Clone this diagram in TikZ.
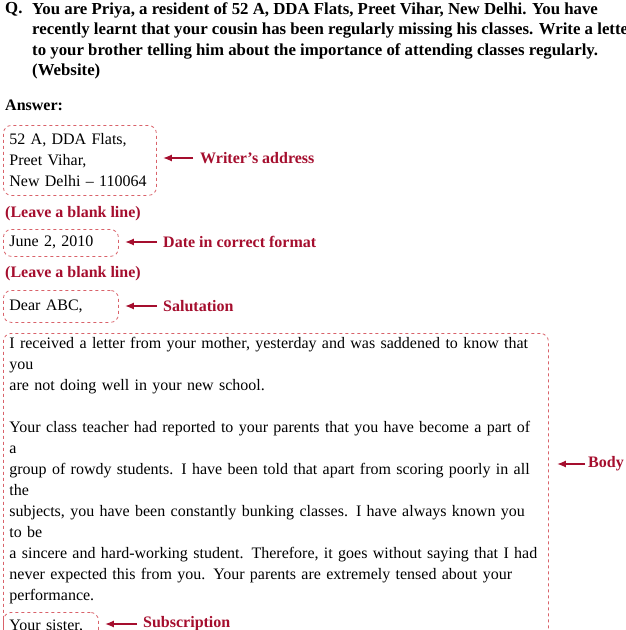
\documentclass[tikz,border=0pt]{standalone}
\usepackage{fontspec}
\setmainfont{Liberation Serif}
\usetikzlibrary{arrows.meta,positioning}
\definecolor{lblred}{HTML}{A50E2E}
\definecolor{boxred}{HTML}{D9626A}
\tikzset{
  letter/.style={draw=boxred, dashed, line width=0.8pt, rounded corners=8pt,
    align=left, anchor=north west, inner xsep=6pt, inner ysep=4pt,
    font=\fontsize{16}{21}\selectfont},
  note/.style={text=lblred, font=\fontsize{16}{17}\selectfont\bfseries, anchor=base west, inner sep=0pt},
  pointer/.style={-{Latex[length=9pt,width=7pt]}, lblred, line width=2pt},
  qtext/.style={font=\fontsize{16.8}{20.5}\selectfont\bfseries, align=left, anchor=north west, inner sep=0pt}
}
\begin{document}
\begin{tikzpicture}[x=1pt,y=-1pt]
    \useasboundingbox (0,0) rectangle (625,630);

    % question
    \node [qtext] (qmark) at (5,2) {Q.};
    \node [qtext] (question) at (32,2) {You are Priya, a resident of 52 A, DDA Flats, Preet Vihar, New Delhi. You have\\
      recently learnt that your cousin has been regularly missing his classes. Write a letter\\
      to your brother telling him about the importance of attending classes regularly.\\
      (Website)};
    \node [note, text=black] (answer) at (5,110) {Answer:};

    % letter parts
    \node [letter, text width=141pt, minimum height=70pt] (addr) at (3,125)
      {52 A, DDA Flats,\\ Preet Vihar,\\ New Delhi -- 110064};
    \node [note] (blank1) at (5,217) {(Leave a blank line)};
    \node [letter, text width=103pt, minimum height=27pt] (date) at (3,229) {June 2, 2010};
    \node [note] (blank2) at (5,277) {(Leave a blank line)};
    \node [letter, text width=103pt, minimum height=32pt] (salut) at (3,290) {Dear ABC,};
    \node [letter, text width=533pt, minimum height=262pt] (body) at (3,333)
      {I received a letter from your mother, yesterday and was saddened to know that you\\
       are not doing well in your new school.\\[21pt]
       Your class teacher had reported to your parents that you have become a part of a\\
       group of rowdy students. I have been told that apart from scoring poorly in all the\\
       subjects, you have been constantly bunking classes. I have always known you to be\\
       a sincere and hard-working student. Therefore, it goes without saying that I had\\
       never expected this from you. Your parents are extremely tensed about your\\
       performance.\\[21pt]
       I have assured them that given a chance, you would not let any one of us down.\\
       Keep your chin up and work hard. Let me know if you need any kind of help.};
    \node [letter, text width=83pt, minimum height=28pt] (subs) at (3,612) {Your sister,};

    % labels
    \node [note, anchor=west] (laddr) at (200,158) {Writer’s address};
    \node [note, anchor=west] (ldate) at (163,242) {Date in correct format};
    \node [note, anchor=west] (lsalut) at (163,306) {Salutation};
    \node [note, anchor=west] (lbody) at (588,464) {Body};
    \node [note, anchor=west] (lsubs) at (143,624) {Subscription};

    \draw [pointer] ([xshift=-7pt]laddr.west) -- ([xshift=6pt]addr.east |- laddr.west);
    \draw [pointer] ([xshift=-6pt]ldate.west) -- ([xshift=6pt]date.east |- ldate.west);
    \draw [pointer] ([xshift=-6pt]lsalut.west) -- ([xshift=6pt]salut.east |- lsalut.west);
    \draw [pointer] ([xshift=-3pt]lbody.west) -- ([xshift=8pt]body.east |- lbody.west);
    \draw [pointer] ([xshift=-6pt]lsubs.west) -- ([xshift=6pt]subs.east |- lsubs.west);
\end{tikzpicture}
\end{document}
